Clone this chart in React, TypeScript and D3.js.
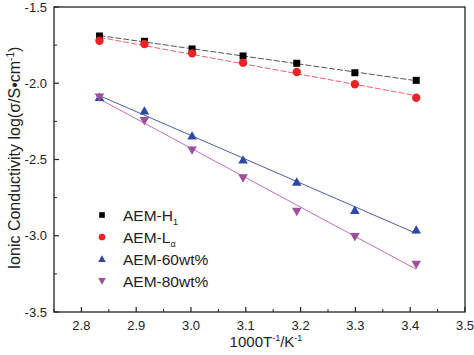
import React from "react";
import * as d3 from "d3";

const xValues = [2.833, 2.915, 3.002, 3.095, 3.193, 3.299, 3.411];
const seriesNames = ["AEM-H", "AEM-L", "AEM-60wt%", "AEM-80wt%"];
const seriesSubs = ["1", "α", "", ""];
const h1 = [-1.69, -1.725, -1.775, -1.821, -1.869, -1.931, -1.981];
const la = [-1.721, -1.743, -1.804, -1.865, -1.926, -2.007, -2.095];
const wt60 = [-2.092, -2.182, -2.346, -2.503, -2.648, -2.833, -2.962];
const wt80 = [-2.09, -2.245, -2.438, -2.621, -2.84, -3.006, -3.187];
const xTicks = [2.8, 2.9, 3.0, 3.1, 3.2, 3.3, 3.4, 3.5];
const yTicks = [-1.5, -2.0, -2.5, -3.0, -3.5];

const colors = ["#000000", "#ec2227", "#2c4a9e", "#9e4f9c"];
const lineColors = ["#555555", "#f06070", "#4a5fa8", "#c070b8"];

const W = 474, H = 355;
const m = { left: 54, top: 7, right: 465, bottom: 312 };

export default function App() {
  const x = d3.scaleLinear().domain([2.75, 3.5]).range([m.left, m.right]);
  const y = d3.scaleLinear().domain([-3.5, -1.5]).range([m.bottom, m.top]);
  const all = [h1, la, wt60, wt80];
  const font = "Liberation Sans, Arial, sans-serif";

  const marker = (i: number, cx: number, cy: number, key: any, k = 1) => {
    const c = colors[i];
    if (i === 0) return <rect key={key} x={cx - 3.5 * k} y={cy - 3.5 * k} width={7 * k} height={7 * k} fill={c} />;
    if (i === 1) return <circle key={key} cx={cx} cy={cy} r={4.2 * k} fill={c} />;
    const s = 4.8 * k;
    const pts = i === 2
      ? [[cx, cy - s], [cx + s, cy + s * 0.75], [cx - s, cy + s * 0.75]]
      : [[cx, cy + s], [cx + s, cy - s * 0.75], [cx - s, cy - s * 0.75]];
    return <polygon key={key} points={pts.map((p) => p.join(",")).join(" ")} fill={c} />;
  };

  const fit = (ys: number[]) => {
    const mx = d3.mean(xValues)!;
    const my = d3.mean(ys)!;
    const sxy = d3.sum(xValues, (v, k) => (v - mx) * (ys[k] - my));
    const sxx = d3.sum(xValues, (v) => (v - mx) ** 2);
    const b = sxy / sxx;
    const a = my - b * mx;
    const x0 = xValues[0], x1 = xValues[xValues.length - 1];
    return [[x0, a + b * x0], [x1, a + b * x1]];
  };

  const minorX = d3.range(2.75, 3.5, 0.05).map((v) => +v.toFixed(2));
  const minorY = d3.range(-3.25, -1.5, 0.5);

  return (
    <svg width={W} height={H} style={{ position: "absolute", left: 0, top: 0 }}>
      <rect x={0} y={0} width={W} height={H} fill="#fff" />
      {all.map((ys, i) => {
        const f = fit(ys);
        return (
          <line key={"l" + i} x1={x(f[0][0])} y1={y(f[0][1])} x2={x(f[1][0])} y2={y(f[1][1])}
            stroke={lineColors[i]} strokeWidth={1} strokeDasharray={i < 2 ? "6,2" : undefined} />
        );
      })}
      {all.map((ys, i) => ys.map((v, k) => marker(i, x(xValues[k]), y(v), i + "-" + k)))}
      <rect x={m.left} y={m.top} width={m.right - m.left} height={m.bottom - m.top} fill="none" stroke="#222" strokeWidth={1.3} />
      {xTicks.map((t) => (
        <g key={"xt" + t}>
          <line x1={x(t)} x2={x(t)} y1={m.bottom} y2={m.bottom - 5} stroke="#222" strokeWidth={1.2} />
          <text x={x(t)} y={330} textAnchor="middle" fontFamily={font} fontSize={13} fill="#222">{t.toFixed(1)}</text>
        </g>
      ))}
      {minorX.filter((v) => Math.abs(v * 10 - Math.round(v * 10)) > 0.01).map((t) => (
        <line key={"xm" + t} x1={x(t)} x2={x(t)} y1={m.bottom} y2={m.bottom - 3} stroke="#222" strokeWidth={1} />
      ))}
      {yTicks.map((t) => (
        <g key={"yt" + t}>
          <line x1={m.left} x2={m.left + 5} y1={y(t)} y2={y(t)} stroke="#222" strokeWidth={1.2} />
          <text x={47} y={y(t) + 4.5} textAnchor="end" fontFamily={font} fontSize={13} fill="#222">{t.toFixed(1)}</text>
        </g>
      ))}
      {minorY.map((t) => (
        <line key={"ym" + t} x1={m.left} x2={m.left + 3} y1={y(t)} y2={y(t)} stroke="#222" strokeWidth={1} />
      ))}
      <text transform={`translate(20,158) rotate(-90)`} textAnchor="middle" fontFamily={font} fontSize={16} fill="#222">
        Ionic Conductivity log(σ/S•cm<tspan dy={-6} fontSize={10}>-1</tspan><tspan dy={6}>)</tspan>
      </text>
      <text x={266} y={347} textAnchor="middle" fontFamily={font} fontSize={15} fill="#222">
        1000T<tspan dy={-6} fontSize={9}>-1</tspan><tspan dy={6}>/K</tspan><tspan dy={-6} fontSize={9}>-1</tspan>
      </text>
      {seriesNames.map((n, i) => {
        const ly = 215 + i * 22;
        return (
          <g key={"lg" + i}>
            {marker(i, 102, ly, "lm" + i, 0.8)}
            <text x={123} y={ly + 5.5} fontFamily={font} fontSize={15.5} fill="#222">
              {n}
              {seriesSubs[i] && <tspan dy={4} fontSize={9}>{seriesSubs[i]}</tspan>}
            </text>
          </g>
        );
      })}
    </svg>
  );
}
